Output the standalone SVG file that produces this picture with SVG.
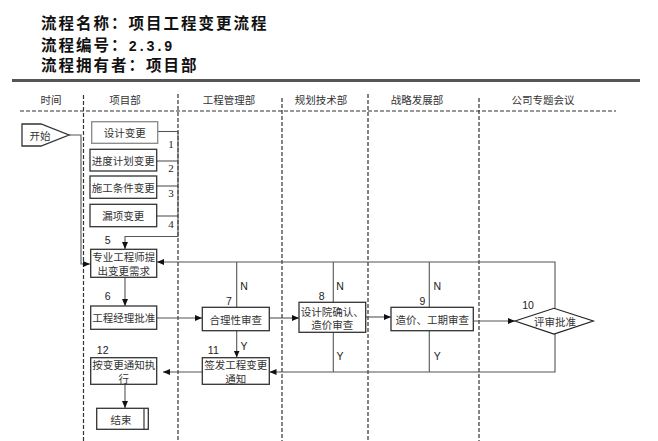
<svg xmlns="http://www.w3.org/2000/svg" width="658" height="441" viewBox="0 0 658 441">
<style>
.t{font-family:"Noto Sans CJK SC","Liberation Sans",sans-serif;font-size:15.5px;font-weight:bold;fill:#111;letter-spacing:2px}
.h{font-family:"Noto Sans CJK SC","Liberation Sans",sans-serif;font-size:10.5px;fill:#333;text-anchor:middle}
.bx{fill:#fff;stroke:#333;stroke-width:1.3}
.tx{font-family:"Noto Sans CJK SC","Liberation Sans",sans-serif;font-size:10.5px;fill:#333;text-anchor:middle;dominant-baseline:central}
.n{font-family:"Liberation Sans",Arial,sans-serif;font-size:10.5px;fill:#222;text-anchor:middle}
.ns{font-family:"Liberation Serif",serif;font-size:11px;fill:#222;text-anchor:middle}
.sep{stroke:#333;stroke-width:1.2;stroke-dasharray:4 2;fill:none}
.c{stroke:#555;stroke-width:1.1;fill:none}
.ca{stroke:#555;stroke-width:1.1;fill:none;marker-end:url(#ar)}
</style>
<defs>
<marker id="ar" markerUnits="userSpaceOnUse" markerWidth="8" markerHeight="7" refX="7" refY="3" orient="auto">
<path d="M0,0 L7,3 L0,6 z" fill="#111"/>
</marker>
</defs>
<rect width="658" height="441" fill="#fff"/>
<g id="title">
<text class="t" x="41" y="29">流程名称：项目工程变更流程</text>
<text class="t" x="41" y="50.5">流程编号：<tspan font-family="Liberation Mono,monospace" font-size="14" letter-spacing="0.5">2.3.9</tspan></text>
<text class="t" x="41" y="71">流程拥有者：项目部</text>
<rect x="12" y="79" width="628" height="3" fill="#555"/>
</g>
<g id="lanes">
<text class="h" x="51" y="104">时间</text>
<text class="h" x="125" y="104">项目部</text>
<text class="h" x="229" y="104">工程管理部</text>
<text class="h" x="321" y="104">规划技术部</text>
<text class="h" x="417" y="104">战略发展部</text>
<text class="h" x="543" y="104">公司专题会议</text>
<line class="sep" x1="20" y1="111" x2="616" y2="111"/>
<line class="sep" x1="83.5" y1="95" x2="83.5" y2="441"/>
<line class="sep" x1="178" y1="94" x2="178" y2="441"/>
<line class="sep" x1="282" y1="98" x2="282" y2="441"/>
<line class="sep" x1="368" y1="94" x2="368" y2="441"/>
<line class="sep" x1="479" y1="98" x2="479" y2="441"/>
</g>
<g id="connectors">
<polyline class="ca" points="69,135 81,135 81,264 90,264"/>
<line class="c" x1="158" y1="131.5" x2="178" y2="131.5"/>
<line class="c" x1="157" y1="161" x2="178" y2="161"/>
<line class="c" x1="157" y1="186" x2="178" y2="186"/>
<line class="c" x1="157" y1="216" x2="178" y2="216"/>
<polyline class="ca" points="178,131.5 178,236.5 125,236.5 125,249"/>
<line class="ca" x1="125" y1="277.5" x2="125" y2="306"/>
<line class="ca" x1="157" y1="318" x2="202" y2="318"/>
<line class="ca" x1="269.5" y1="318" x2="299" y2="318"/>
<line class="ca" x1="366" y1="317" x2="391" y2="317"/>
<line class="ca" x1="473.5" y1="321" x2="515" y2="321"/>
<polyline class="ca" points="555,308 555,262 157,262"/>
<line class="c" x1="236.7" y1="262" x2="236.7" y2="307"/>
<line class="c" x1="333.3" y1="262" x2="333.3" y2="302"/>
<line class="c" x1="429.3" y1="262" x2="429.3" y2="307"/>
<polyline class="ca" points="555,334 555,372 269.5,372"/>
<line class="c" x1="333.3" y1="332" x2="333.3" y2="372"/>
<line class="c" x1="429.3" y1="331" x2="429.3" y2="372"/>
<line class="ca" x1="236.7" y1="331" x2="236.7" y2="357.5"/>
<line class="ca" x1="210" y1="372" x2="163" y2="372"/>
<line class="ca" x1="125" y1="377" x2="125" y2="408"/>
</g>
<g id="labels">
<text class="ns" x="171" y="148">1</text>
<text class="ns" x="171" y="171.5">2</text>
<text class="ns" x="171" y="197">3</text>
<text class="ns" x="171" y="227.5">4</text>
<text class="n" x="107.7" y="243.5">5</text>
<text class="n" x="107.7" y="300">6</text>
<text class="n" x="229" y="305">7</text>
<text class="n" x="321.7" y="300">8</text>
<text class="n" x="422.3" y="305">9</text>
<text class="n" x="528" y="308.5">10</text>
<text class="n" x="213.3" y="353.5">11</text>
<text class="n" x="102.7" y="353.5">12</text>
<text class="n" x="244" y="289.5">N</text>
<text class="n" x="340" y="289.5">N</text>
<text class="n" x="437.3" y="289.5">N</text>
<text class="n" x="244" y="350">Y</text>
<text class="n" x="340" y="360">Y</text>
<text class="n" x="437.3" y="360">Y</text>
</g>
<g id="start">
<polygon class="bx" points="22,124 41,124 69,135 41,146 22,146"/>
<text class="tx" x="40" y="135">开始</text>
</g>
<g id="n1">
<rect class="bx" x="91.7" y="121.7" width="66" height="21.6" style="stroke:#888"/>
<text class="tx" x="124.7" y="132.5">设计变更</text>
</g>
<g id="n2">
<rect class="bx" x="90" y="149.3" width="66.7" height="21.7"/>
<text class="tx" x="123.3" y="160.2">进度计划变更</text>
</g>
<g id="n3">
<rect class="bx" x="90" y="176" width="66.7" height="22.3"/>
<text class="tx" x="123.3" y="187.2">施工条件变更</text>
</g>
<g id="n4">
<rect class="bx" x="90" y="204.3" width="66.7" height="22.4"/>
<text class="tx" x="123.3" y="215.5">漏项变更</text>
</g>
<g id="n5">
<rect class="bx" x="90.7" y="249.3" width="66" height="28"/>
<text class="tx" x="123.7" y="256.5">专业工程师提</text>
<text class="tx" x="123.7" y="270.5">出变更需求</text>
</g>
<g id="n6">
<rect class="bx" x="90.7" y="306" width="66" height="23.3"/>
<text class="tx" x="123.7" y="317.6">工程经理批准</text>
</g>
<g id="n7">
<rect class="bx" x="202.3" y="307.3" width="67" height="23.4"/>
<text class="tx" x="235.8" y="319">合理性审查</text>
</g>
<g id="n8">
<rect class="bx" x="299" y="302.3" width="66.7" height="30"/>
<text class="tx" x="332.3" y="311">设计院确认、</text>
<text class="tx" x="332.3" y="324.5">造价审查</text>
</g>
<g id="n9">
<rect class="bx" x="391" y="307.3" width="82.3" height="23.4"/>
<text class="tx" x="432.2" y="319">造价、工期审查</text>
</g>
<g id="n10">
<polygon points="515,321 554,308.3 593.3,321 554,334" fill="#fff" stroke="#222" stroke-width="1.2"/>
<text class="tx" x="555" y="321.5">评审批准</text>
</g>
<g id="n11">
<rect class="bx" x="202.3" y="357.7" width="67" height="26.6"/>
<text class="tx" x="235.8" y="364">签发工程变更</text>
<text class="tx" x="235.8" y="378">通知</text>
</g>
<g id="n12">
<rect class="bx" x="90.7" y="357.7" width="66" height="26.6"/>
<text class="tx" x="123.7" y="364">按变更通知执</text>
<text class="tx" x="123.7" y="378">行</text>
</g>
<g id="end">
<rect class="bx" x="96.7" y="408.3" width="51.6" height="21"/>
<line x1="144" y1="408.3" x2="144" y2="429.3" stroke="#333" stroke-width="1.2"/>
<text class="tx" x="121" y="419">结束</text>
</g>
</svg>
